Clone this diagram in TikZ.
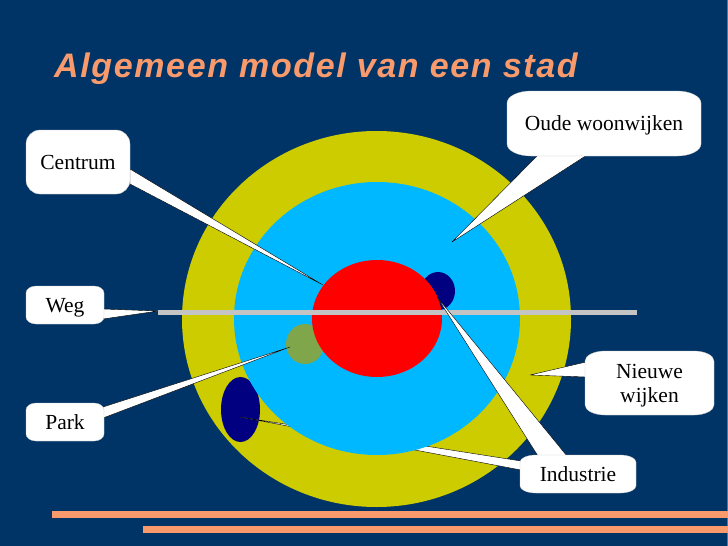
\documentclass[tikz,border=0pt]{standalone}
\usepackage{fontspec}
\setmainfont{Liberation Serif}
\newfontfamily\titlefont[LetterSpace=4.8]{Liberation Sans}
\usetikzlibrary{calc,shapes.geometric}
\pgfdeclarelayer{back}
\pgfsetlayers{back,main}
\definecolor{bgblue}{HTML}{003366}
\definecolor{edgeblue}{HTML}{4477AA}
\definecolor{salmon}{HTML}{F89A6C}
\definecolor{ringyellow}{HTML}{CCCC00}
\definecolor{ringblue}{HTML}{00B8FF}
\definecolor{parkgreen}{HTML}{80A64C}
\definecolor{darknavy}{HTML}{000080}
\definecolor{roadgrey}{HTML}{C4C4C4}
\tikzset{
  x=1pt,y=-1pt,
  disk/.style={ellipse,draw=none,inner sep=0pt,outer sep=0pt},
  label box/.style={inner sep=0pt,outer sep=0pt,align=center,font=\fontsize{21.5}{24}\selectfont},
  tail/.style={fill=white,draw=black,line width=0.4pt,line join=round},
  bubble/.style={fill=white,draw=roadgrey,line width=0.3pt},
  bar/.style={fill=salmon,draw=none}
}
% text without descender depth, so that baselines sit alike in their boxes
\newcommand{\nodepth}[1]{\raisebox{0pt}[\height][0pt]{#1}}
% #1 node name, #2 corner width, #3 corner height
\newcommand{\bubbleshape}[3]{%
  \path[bubble]
    ($(#1.north west)+(#2,0)$) -- ($(#1.north east)+(-#2,0)$)
    .. controls ($(#1.north east)+(-#2*0.45,0)$) and ($(#1.north east)+(0,#3*0.45)$) .. ($(#1.north east)+(0,#3)$)
    -- ($(#1.south east)+(0,-#3)$)
    .. controls ($(#1.south east)+(0,-#3*0.45)$) and ($(#1.south east)+(-#2*0.45,0)$) .. ($(#1.south east)+(-#2,0)$)
    -- ($(#1.south west)+(#2,0)$)
    .. controls ($(#1.south west)+(#2*0.45,0)$) and ($(#1.south west)+(0,-#3*0.45)$) .. ($(#1.south west)+(0,-#3)$)
    -- ($(#1.north west)+(0,#3)$)
    .. controls ($(#1.north west)+(0,#3*0.45)$) and ($(#1.north west)+(#2*0.45,0)$) .. cycle;}
\begin{document}
\begin{tikzpicture}
\useasboundingbox (0,0) rectangle (728,546);
% texts and box frames
\node[font=\titlefont\fontsize{34}{36}\selectfont\bfseries\itshape,text=salmon,anchor=base west,inner sep=0pt] (title) at (54,77) {Algemeen model van een stad};
\node[label box,minimum width=104,minimum height=64] (centrum) at (78,162) {Centrum};
\node[label box,minimum width=78,minimum height=38] (weg) at (65,305) {\nodepth{Weg}};
\node[label box,minimum width=78,minimum height=38] (park) at (65,422) {Park};
\node[label box,minimum width=194,minimum height=65] (oude) at (604,123.5) {\nodepth{Oude woonwijken}};
\node[label box,minimum width=129,minimum height=64] (nieuwe) at (649.5,383) {Nieuwe\\\nodepth{wijken}};
\node[label box,minimum width=116,minimum height=38] (industrie) at (578,474) {Industrie};
\begin{pgfonlayer}{back}
\fill[bgblue] (0,0) rectangle (728,546);
\fill[edgeblue] (727,0) rectangle (728,546);
\path[bar] (52,511) rectangle (728,518);
\path[bar] (143,526) rectangle (728,533);
% disks
\node[disk,fill=ringyellow,minimum width=389,minimum height=376] (outer) at (376.5,319) {};
\node[disk,fill=darknavy,minimum width=39,minimum height=65] (factory) at (240.5,409.5) {};
\coordinate (tipFactory) at (240,417);
\draw[tail] (tipFactory) -- ($(industrie.west)+(1,-13)$) -- ($(industrie.west)+(1,-4)$) -- cycle;
\node[disk,fill=ringblue,minimum width=286,minimum height=273] (inner) at (377,318.5) {};
\node[disk,fill=darknavy,minimum width=34,minimum height=38] (port) at (438,291) {};
\node[disk,fill=parkgreen,minimum width=38,minimum height=40] (green) at (305,344) {};
\node[disk,fill=red,minimum width=130,minimum height=117] (core) at (377,318.5) {};
\fill[roadgrey] (158,309.5) rectangle (637,314.5);
% callout tails
\coordinate (tipCentrum) at (323,285);
\coordinate (tipWeg) at (158,311);
\coordinate (tipPark) at (290,347);
\coordinate (tipOude) at (452,242);
\coordinate (tipNieuwe) at (530,375);
\coordinate (tipPort) at (437,297);
\draw[tail] (tipCentrum) -- ($(centrum.east)+(0,7)$) -- ($(centrum.east)+(0,22)$) -- cycle;
\draw[tail] (tipWeg) -- ($(weg.east)+(-1,4)$) -- ($(weg.east)+(-1,14)$) -- cycle;
\draw[tail] (tipPark) -- ($(park.east)+(-1,-15)$) -- ($(park.east)+(-1,-4)$) -- cycle;
\draw[tail] (tipOude) -- ($(oude.south)+(-66,-1)$) -- ($(oude.south)+(-17,-1)$) -- cycle;
\draw[tail] (tipNieuwe) -- ($(nieuwe.west)+(1,-21)$) -- ($(nieuwe.west)+(1,-6)$) -- cycle;
\draw[tail] (tipPort) -- ($(industrie.north)+(-40,1)$) -- ($(industrie.north)+(-11,1)$) -- cycle;
% bubbles
\bubbleshape{centrum}{14}{14}
\bubbleshape{weg}{10}{7}
\bubbleshape{park}{10}{7}
\bubbleshape{oude}{24}{12}
\bubbleshape{nieuwe}{20}{10}
\bubbleshape{industrie}{16}{7}
\end{pgfonlayer}
\end{tikzpicture}
\end{document}
